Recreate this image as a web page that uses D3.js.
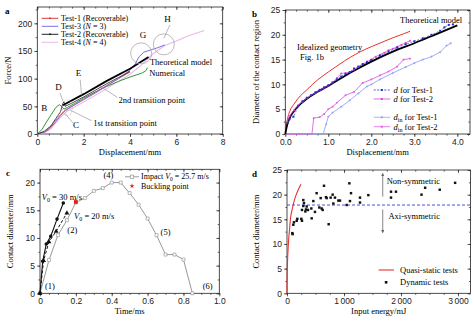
<!DOCTYPE html>
<html>
<head>
<meta charset="utf-8">
<script src="https://cdn.jsdelivr.net/npm/d3@7/dist/d3.min.js"></script>
<style>
body { margin: 0; background: #fff; }
svg { font-family: "Liberation Serif", "Times New Roman", serif; }
.tick text { font-size: 8.5px; fill: #222; }
.tick line { stroke: #222; stroke-width: 0.7; }
</style>
</head>
<body>
<svg id="chart" width="474" height="326"></svg>
<script>
// ---------- panel a : force vs displacement ----------
var aTest1X = [0, 0.3, 0.5, 0.8, 1.0, 1.2, 1.5, 2, 2.5, 3, 3.5, 4];
var aTest1Y = [0, 3, 10, 25, 35, 43, 50, 63, 75, 88, 100, 112];
var aTest2X = [0, 0.3, 0.6, 0.8, 1.0, 1.1, 1.15, 1.2, 1.5, 2, 2.5, 3, 3.5, 4];
var aTest2Y = [0, 5, 15, 28, 40, 55, 58, 50, 56, 67, 79, 91, 102, 113];
var aTest3X = [0, 0.3, 0.5, 0.8, 1.0, 1.2, 1.5, 2, 2.5, 3, 3.5, 4, 4.2, 4.4, 4.6, 4.9, 5.2, 5.5];
var aTest3Y = [0, 3, 8, 22, 33, 42, 50, 62, 74, 87, 100, 115, 125, 140, 148, 152, 156, 161];
var aTest4X = [0, 0.3, 0.6, 1.0, 1.3, 2, 3, 4, 4.5, 5, 5.5, 6, 6.5, 7.2];
var aTest4Y = [0, 2, 10, 30, 42, 58, 82, 108, 125, 145, 160, 168, 177, 187];
var aNumX = [0, 0.2, 0.4, 0.6, 0.8, 0.95, 1.05, 1.15, 1.3, 1.6, 2, 2.5, 3, 3.5, 4, 4.3, 4.5, 4.6, 4.7, 4.75];
var aNumY = [0, 8, 22, 35, 48, 53, 50, 45, 48, 55, 65, 76, 86, 95, 103, 107, 110, 112, 115, 120];
var aTheoX = [1.1, 2, 3, 4, 4.8];
var aTheoY = [52, 72, 96, 118, 139];

// ---------- panel b : diameter of contact region ----------
var bIdealX = [0, 0.05, 0.1, 0.2, 0.3, 0.5, 0.75, 1, 1.25, 1.5, 1.75, 2, 2.25, 2.5, 2.75, 2.9];
var bIdealY = [0, 3, 4.5, 6, 7.2, 8.9, 10.9, 12.5, 14, 15.4, 16.6, 17.6, 18.5, 19.4, 20.2, 20.7];
var bTheoX = [0, 0.05, 0.1, 0.2, 0.3, 0.5, 0.75, 1, 1.5, 2, 2.5, 3, 3.5, 4];
var bTheoY = [0, 2, 3.2, 4.6, 5.6, 7.1, 8.5, 9.7, 12.3, 14.6, 16.6, 18.3, 20.1, 21.9];
var bD1X = [0.05, 0.1, 0.19, 0.3, 0.4, 0.5, 0.6, 0.7, 0.8, 0.9, 1.0, 1.1, 1.2, 1.3, 1.4, 1.5, 1.6, 1.7, 1.8, 1.9, 2.0, 2.2, 2.4, 2.6, 2.8, 3.0, 3.2, 3.4, 3.6, 3.7, 3.8, 3.9];
var bD1Y = [2.2, 3.0, 3.5, 5.6, 6.6, 7.3, 7.8, 8.4, 8.9, 9.4, 9.8, 10.4, 11.0, 11.6, 12.1, 12.5, 13.2, 13.6, 14.1, 14.5, 14.9, 15.8, 16.6, 17.4, 18.1, 18.7, 19.3, 20.0, 20.8, 21.5, 22.0, 22.1];
var bD2X = [0.05, 0.1, 0.2, 0.3, 0.4, 0.5, 0.6, 0.7, 0.8, 0.9, 1.0, 1.1, 1.2, 1.3, 1.4, 1.5, 1.6, 1.7, 1.8, 1.9, 2.0, 2.1, 2.2, 2.3, 2.4, 2.5, 2.6, 2.7, 2.8, 2.9];
var bD2Y = [2.5, 3.6, 4.8, 5.8, 6.5, 7.2, 7.8, 8.3, 8.8, 9.3, 9.8, 10.4, 11.3, 12.2, 12.3, 12.5, 13.0, 13.5, 14.1, 14.6, 15.0, 15.6, 16.0, 16.4, 16.9, 17.2, 17.6, 18.0, 18.4, 18.8];
var bDin1X = [0, 0.88, 0.95, 1.0, 1.1, 1.3, 1.5, 1.7, 1.9, 2.0, 2.2, 2.5, 2.8, 3.0, 3.2, 3.4, 3.6, 3.75, 3.85];
var bDin1Y = [0, 0, 2, 3.5, 4.3, 5.5, 6.8, 8.2, 9.6, 10, 11, 12.3, 13.5, 14.3, 15, 15.6, 16.5, 17.8, 18.3];
var bDin2X = [0, 0.62, 0.66, 0.8, 0.9, 1.0, 1.1, 1.2, 1.4, 1.6, 1.8, 2.0, 2.2, 2.4, 2.6, 2.75, 2.9];
var bDin2Y = [0, 0, 3.2, 3.4, 4, 5, 5.5, 6.3, 7.8, 8.5, 10.3, 11, 11.8, 12.6, 13.6, 15, 15.2];

// ---------- panel c : contact diameter vs time ----------
var cImpactT = [0, 0.05, 0.1, 0.15, 0.2, 0.25, 0.3, 0.35, 0.4, 0.45, 0.5, 0.55, 0.6, 0.65, 0.7, 0.75, 0.8, 0.85];
var cImpactD = [0, 6, 10.5, 13.2, 16.4, 17.2, 18.5, 19, 20, 20, 18.1, 16, 13.5, 10.5, 7, 7, 6.1, 0];
var cV30T = [0, 0.015, 0.035, 0.06, 0.095, 0.13];
var cV30D = [0, 5.8, 8.9, 10.3, 13.4, 16.3];
var cV20T = [0, 0.02, 0.05, 0.09, 0.15];
var cV20D = [0, 5.9, 9.3, 11.2, 14.5];
var cBuckling = [0.2, 16.5];

// ---------- panel d : contact diameter vs input energy ----------
var dQuasiE = [0, 5, 15, 30, 45, 70, 100, 140, 190, 245];
var dQuasiD = [0, 5, 8, 11, 13, 15.9, 17.5, 19.3, 20.8, 22.1];
var dDynE = [93, 99, 111, 122, 181, 170, 251, 263, 286, 298, 286, 263, 333, 345, 322, 368, 427, 433, 462, 491,
	520, 567, 591, 608, 626, 649, 696, 684, 731, 766, 801, 813, 842, 901, 930, 1047, 1094, 1105, 1123,
	1281, 1281, 1427, 1825, 1825, 1912, 2360, 2424, 2680, 2950];
var dDynD = [12.2, 12.0, 13.9, 14.4, 15.1, 14.7, 15.1, 14.7, 18.9, 18.3, 17.7, 16.9, 17.0, 17.6, 16.6, 16.9, 17.2, 15.2, 18.7, 16.5,
	20.3, 17.4, 19.3, 17.2, 16.9, 21.8, 19.3, 19.5, 14.0, 19.4, 20.0, 18.2, 19.4, 18.8, 18.8, 17.9, 22.3, 18.7, 20.3,
	19.4, 18.4, 19.9, 20.6, 19.4, 20.6, 20.0, 21.4, 21.0, 22.4];
var dThreshold = 17.9;
var dArrowE = 1680;

var svg = d3.select("#chart");

function zip(xs, ys) {
	return xs.map(function(v, i) { return [v, ys[i]]; });
}

function setupPanel(o) {
	var x = d3.scaleLinear().domain(o.xDomain).range([o.left, o.right]);
	var y = d3.scaleLinear().domain(o.yDomain).range([o.bottom, o.top]);
	var g = svg.append("g");

	g.append("g").attr("transform", "translate(0," + o.bottom + ")")
		.call(d3.axisBottom(x).tickValues(o.xMinor).tickSize(1.6).tickFormat(""));
	g.append("g").attr("transform", "translate(0," + o.bottom + ")")
		.call(d3.axisBottom(x).tickValues(o.xTicks).tickSize(3).tickPadding(2).tickFormat(o.xFormat || null));
	g.append("g").attr("transform", "translate(0," + o.top + ")")
		.call(d3.axisTop(x).tickValues(o.xMinor).tickSize(-1.6).tickFormat(""));
	g.append("g").attr("transform", "translate(0," + o.top + ")")
		.call(d3.axisTop(x).tickValues(o.xTicks).tickSize(-3).tickFormat(""));
	g.append("g").attr("transform", "translate(" + o.left + ",0)")
		.call(d3.axisLeft(y).tickValues(o.yMinor).tickSize(1.6).tickFormat(""));
	g.append("g").attr("transform", "translate(" + o.left + ",0)")
		.call(d3.axisLeft(y).tickValues(o.yTicks).tickSize(3).tickPadding(2));
	g.append("g").attr("transform", "translate(" + o.right + ",0)")
		.call(d3.axisRight(y).tickValues(o.yMinor).tickSize(-1.6).tickFormat(""));
	g.append("g").attr("transform", "translate(" + o.right + ",0)")
		.call(d3.axisRight(y).tickValues(o.yTicks).tickSize(-3).tickFormat(""));
	g.selectAll(".domain").remove();

	g.append("rect")
		.attr("x", o.left).attr("y", o.top)
		.attr("width", o.right - o.left).attr("height", o.bottom - o.top)
		.attr("fill", "none").attr("stroke", "#222").attr("stroke-width", 0.8);

	g.append("text")
		.attr("x", (o.left + o.right) / 2).attr("y", o.bottom + 21)
		.attr("text-anchor", "middle").style("font-size", "8.5px")
		.text(o.xLabel);
	g.append("text")
		.attr("transform", "translate(" + o.yLabelX + "," + (o.top + o.bottom) / 2 + ") rotate(-90)")
		.attr("text-anchor", "middle").style("font-size", "8.5px")
		.text(o.yLabel);
	g.append("text")
		.attr("x", o.letterX).attr("y", o.top + 7)
		.style("font-size", "9px").style("font-weight", "bold")
		.text(o.letter);

	var plot = g.append("g");
	return { g: plot, x: x, y: y };
}

function drawLine(p, xs, ys, color, width, dash, curve) {
	var line = d3.line()
		.x(function(d) { return p.x(d[0]); })
		.y(function(d) { return p.y(d[1]); })
		.curve(curve || d3.curveLinear);
	p.g.append("path")
		.datum(zip(xs, ys))
		.attr("d", line)
		.attr("fill", "none")
		.attr("stroke", color)
		.attr("stroke-width", width)
		.attr("stroke-dasharray", dash || null)
		.attr("stroke-linejoin", "round");
}

function drawDots(p, xs, ys, color, size, shape, filled) {
	p.g.selectAll(null)
		.data(zip(xs, ys))
		.enter().append("path")
		.attr("transform", function(d) { return "translate(" + p.x(d[0]) + "," + p.y(d[1]) + ")"; })
		.attr("d", d3.symbol().type(shape || d3.symbolSquare).size(size))
		.attr("fill", filled === false ? "#fff" : color)
		.attr("stroke", filled === false ? color : "none")
		.attr("stroke-width", 0.7);
}

function label(p, dx, dy, txt, anchor, size) {
	return p.g.append("text")
		.attr("x", p.x(dx)).attr("y", p.y(dy))
		.attr("text-anchor", anchor || "start")
		.style("font-size", (size || 8.5) + "px")
		.text(txt);
}

function leader(p, x1, y1, x2, y2) {
	p.g.append("line")
		.attr("x1", p.x(x1)).attr("y1", p.y(y1))
		.attr("x2", p.x(x2)).attr("y2", p.y(y2))
		.attr("stroke", "#999").attr("stroke-width", 0.7);
}

// ===== panel a =====
var pa = setupPanel({
	left: 37.3, right: 222.7, top: 7, bottom: 134,
	xDomain: [0, 8], yDomain: [0, 229.5],
	xTicks: [0, 2, 4, 6, 8], xMinor: d3.range(0, 8.01, 0.5),
	yTicks: [0, 50, 100, 150, 200], yMinor: d3.range(0, 226, 25),
	xLabel: "Displacement/mm", yLabel: "Force/N", yLabelX: 11,
	letter: "a", letterX: 5
});

drawLine(pa, aTest4X, aTest4Y, "#e9b9e6", 1.1);
drawLine(pa, aNumX, aNumY, "#2f9a2f", 1);
drawLine(pa, aTest1X, aTest1Y, "#e23a3a", 0.8);
drawLine(pa, aTest3X, aTest3Y, "#7d6ee6", 1);
drawLine(pa, aTest2X, aTest2Y, "#222", 0.8);
drawLine(pa, aTheoX, aTheoY, "#000", 1.8);

// circles G and H
[[4.48, 145.8], [5.46, 162]].forEach(function(c) {
	pa.g.append("circle")
		.attr("cx", pa.x(c[0])).attr("cy", pa.y(c[1])).attr("r", 10.5)
		.attr("fill", "none").attr("stroke", "#aaa").attr("stroke-width", 0.8);
});
pa.g.append("ellipse")
	.attr("cx", pa.x(1.3)).attr("cy", pa.y(47)).attr("rx", 5).attr("ry", 8)
	.attr("fill", "none").attr("stroke", "#aaa").attr("stroke-width", 0.6)
	.attr("stroke-dasharray", "1.5,1.5");

leader(pa, 1.85, 98, 1.91, 70);
leader(pa, 0.98, 74, 1.12, 58);
leader(pa, 1.55, 19.3, 1.19, 37.4);
leader(pa, 2.34, 24, 1.41, 43.4);
leader(pa, 3.45, 66.3, 2.7, 86.7);
leader(pa, 5.72, 197, 5.46, 173);

label(pa, 0.3, 42, "B", "middle", 9);
label(pa, 1.67, 11, "C", "middle", 9);
label(pa, 0.92, 79, "D", "middle", 9);
label(pa, 1.78, 104, "E", "middle", 9);
label(pa, 4.56, 174, "G", "middle", 9);
label(pa, 5.62, 202, "H", "middle", 9);
label(pa, 4.86, 125, "Theoretical model");
label(pa, 4.83, 105, "Numerical");
label(pa, 3.5, 55.5, "2nd  transition point");
label(pa, 2.41, 15, "1st transition point");

var aLegend = [
	{ color: "#e23a3a", dot: true, text: ["Test-1 (Recoverable)"] },
	{ color: "#7d6ee6", dot: false, text: ["Test-3 (", "N", " = 3)"] },
	{ color: "#222", dot: true, text: ["Test-2 (Recoverable)"] },
	{ color: "#e9b9e6", dot: false, text: ["Test-4 (", "N", " = 4)"] }
];
aLegend.forEach(function(e, i) {
	var ly = 18.3 + i * 8;
	pa.g.append("line").attr("x1", 41.7).attr("x2", 58.3).attr("y1", ly).attr("y2", ly)
		.attr("stroke", e.color).attr("stroke-width", 1);
	if (e.dot) {
		pa.g.append("circle").attr("cx", 50).attr("cy", ly).attr("r", 1).attr("fill", e.color);
	}
	var t = pa.g.append("text").attr("x", 61).attr("y", ly + 2.8).style("font-size", "8px");
	e.text.forEach(function(s, j) {
		t.append("tspan").style("font-style", j == 1 ? "italic" : null).text(s);
	});
});

// ===== panel b =====
var pb = setupPanel({
	left: 285.3, right: 470, top: 10, bottom: 134,
	xDomain: [0, 4.295], yDomain: [0, 25],
	xTicks: [0, 1, 2, 3, 4], xMinor: d3.range(0, 4.3, 0.25),
	yTicks: [0, 5, 10, 15, 20, 25], yMinor: d3.range(0, 25.1, 2.5),
	xLabel: "Displacement/mm", yLabel: "Diameter of the contact region", yLabelX: 259,
	letter: "b", letterX: 252
});

drawLine(pb, bIdealX, bIdealY, "#e8322e", 1, null, d3.curveMonotoneX);
drawLine(pb, bDin1X, bDin1Y, "#98a4f2", 0.9);
drawDots(pb, bDin1X.slice(2), bDin1Y.slice(2), "#98a4f2", 3, d3.symbolCross);
drawLine(pb, bDin2X, bDin2Y, "#e35ee3", 0.9);
drawDots(pb, bDin2X.slice(2), bDin2Y.slice(2), "#e35ee3", 3);
drawLine(pb, bTheoX, bTheoY, "#000", 1.8, null, d3.curveMonotoneX);
drawLine(pb, bD2X, bD2Y, "#e040e0", 0.7);
drawDots(pb, bD2X, bD2Y, "#e040e0", 3, d3.symbolCircle);
drawLine(pb, bD1X, bD1Y, "#3344cc", 0.7, "2,1.5");
drawDots(pb, bD1X, bD1Y, "#2233cc", 4);

label(pb, 2.67, 22.4, "Theoretical model");
label(pb, 0.27, 17.0, "Idealized geometry");
label(pb, 0.34, 14.9, "Fig. 1b");

var bLegend = [
	{ color: "#2233cc", dash: "2,1.5", sub: "", text: " for Test-1", y: 90 },
	{ color: "#e040e0", dash: null, sub: "", text: " for Test-2", y: 99 },
	{ color: "#98a4f2", dash: null, sub: "in", text: " for Test-1", y: 117.3 },
	{ color: "#e35ee3", dash: null, sub: "in", text: " for Test-2", y: 126.7 }
];
bLegend.forEach(function(e) {
	pb.g.append("line").attr("x1", 373.7).attr("x2", 390.3).attr("y1", e.y).attr("y2", e.y)
		.attr("stroke", e.color).attr("stroke-width", 0.8).attr("stroke-dasharray", e.dash);
	pb.g.append("rect").attr("x", 380.8).attr("y", e.y - 1).attr("width", 2).attr("height", 2)
		.attr("fill", e.color);
	var t = pb.g.append("text").attr("x", 393.5).attr("y", e.y + 2.8).style("font-size", "8.5px");
	t.append("tspan").style("font-style", "italic").text("d");
	if (e.sub) {
		t.append("tspan").attr("dy", 2).style("font-size", "6px").text(e.sub);
		t.append("tspan").attr("dy", -2).text(e.text);
	} else {
		t.append("tspan").text(e.text);
	}
});

// ===== panel c =====
var pc = setupPanel({
	left: 40, right: 219.3, top: 169.3, bottom: 293.3,
	xDomain: [0, 1.0], yDomain: [0, 22.4],
	xTicks: [0, 0.2, 0.4, 0.6, 0.8, 1.0], xMinor: d3.range(0, 1.001, 0.05),
	xFormat: function(v) { return v == 0 ? "0" : d3.format(".1f")(v); },
	yTicks: [0, 5, 10, 15, 20], yMinor: d3.range(0, 22.5, 2.5),
	xLabel: "Time/ms", yLabel: "Contact diameter/mm", yLabelX: 13,
	letter: "c", letterX: 6
});

drawLine(pc, cImpactT, cImpactD, "#999", 1);
drawDots(pc, cImpactT, cImpactD, "#999", 9, d3.symbolSquare, false);
drawLine(pc, cV20T, cV20D, "#111", 1, "3,2");
drawDots(pc, cV20T, cV20D, "#111", 10, d3.symbolTriangle);
drawLine(pc, cV30T, cV30D, "#111", 1.1);
drawDots(pc, cV30T, cV30D, "#111", 10, d3.symbolCircle);
drawDots(pc, [cBuckling[0]], [cBuckling[1]], "#e02020", 14);

function vLabel(p, dx, dy, rest) {
	var t = p.g.append("text").attr("x", p.x(dx)).attr("y", p.y(dy)).style("font-size", "8.5px");
	t.append("tspan").style("font-style", "italic").text("V");
	t.append("tspan").attr("dy", 2).style("font-size", "6px").text("0");
	t.append("tspan").attr("dy", -2).text(rest);
	return t;
}
vLabel(pc, 0.01, 16.9, " = 30 m/s");
vLabel(pc, 0.19, 13.4, " = 20 m/s");
label(pc, 0.055, 0.8, "(1)", "middle");
label(pc, 0.18, 10.9, "(2)", "middle");
label(pc, 0.382, 20.8, "(4)", "middle");
label(pc, 0.7, 10.6, "(5)", "middle");
label(pc, 0.935, 0.8, "(6)", "middle");

pc.g.append("line").attr("x1", 125).attr("x2", 139).attr("y1", 176.8).attr("y2", 176.8)
	.attr("stroke", "#999").attr("stroke-width", 1);
pc.g.append("rect").attr("x", 130.3).attr("y", 175.1).attr("width", 3.4).attr("height", 3.4)
	.attr("fill", "#fff").attr("stroke", "#999").attr("stroke-width", 0.7);
var ct = pc.g.append("text").attr("x", 141).attr("y", 179.2).style("font-size", "8px");
ct.append("tspan").text("Impact ");
ct.append("tspan").style("font-style", "italic").text("V");
ct.append("tspan").attr("dy", 1.8).style("font-size", "5.5px").text("0");
ct.append("tspan").attr("dy", -1.8).text(" = 25.7 m/s");
pc.g.append("path").attr("transform", "translate(132,186)")
	.attr("d", d3.symbol().type(d3.symbolStar).size(8)).attr("fill", "#e02020");
pc.g.append("text").attr("x", 141).attr("y", 188.8).style("font-size", "8px").text("Buckling point");

// ===== panel d =====
var pd = setupPanel({
	left: 287, right: 470.5, top: 170, bottom: 293.3,
	xDomain: [0, 3220], yDomain: [0, 25],
	xTicks: [0, 1000, 2000, 3000], xMinor: d3.range(0, 3201, 250),
	yTicks: [0, 5, 10, 15, 20, 25], yMinor: d3.range(0, 25.1, 2.5),
	xFormat: function(v) { return v == 0 ? "0" : (v / 1000) + "\u2009000"; },
	xLabel: "Input energy/mJ", yLabel: "Contact diameter/mm", yLabelX: 259,
	letter: "d", letterX: 252
});

pd.g.append("line")
	.attr("x1", pd.x(0)).attr("x2", pd.x(3220))
	.attr("y1", pd.y(dThreshold)).attr("y2", pd.y(dThreshold))
	.attr("stroke", "#3b3bd6").attr("stroke-width", 0.9).attr("stroke-dasharray", "3,2");
drawLine(pd, dQuasiE, dQuasiD, "#e8322e", 1.1, null, d3.curveMonotoneY);
drawDots(pd, dDynE, dDynD, "#111", 6);

var defs = svg.append("defs");
defs.append("marker").attr("id", "arr").attr("viewBox", "0 0 6 6")
	.attr("refX", 5).attr("refY", 3).attr("markerWidth", 4).attr("markerHeight", 4)
	.attr("orient", "auto")
	.append("path").attr("d", "M0,0 L6,3 L0,6 Z").attr("fill", "#666");
pd.g.append("line")
	.attr("x1", pd.x(dArrowE)).attr("x2", pd.x(dArrowE))
	.attr("y1", pd.y(19.6)).attr("y2", pd.y(24.3))
	.attr("stroke", "#666").attr("stroke-width", 0.8).attr("marker-end", "url(#arr)");
pd.g.append("line")
	.attr("x1", pd.x(dArrowE)).attr("x2", pd.x(dArrowE))
	.attr("y1", pd.y(17.0)).attr("y2", pd.y(12.3))
	.attr("stroke", "#666").attr("stroke-width", 0.8).attr("marker-end", "url(#arr)");
label(pd, 1750, 22.2, "Non-symmetric");
label(pd, 1780, 15.0, "Axi-symmetric");

pd.g.append("line").attr("x1", 378.7).attr("x2", 394).attr("y1", 270).attr("y2", 270)
	.attr("stroke", "#e8322e").attr("stroke-width", 1.1);
pd.g.append("text").attr("x", 400).attr("y", 272.8).style("font-size", "8.5px").text("Quasi-static tests");
pd.g.append("rect").attr("x", 384.8).attr("y", 281).attr("width", 2.6).attr("height", 2.6).attr("fill", "#111");
pd.g.append("text").attr("x", 400).attr("y", 285).style("font-size", "8.5px").text("Dynamic tests");
</script>
</body>
</html>
